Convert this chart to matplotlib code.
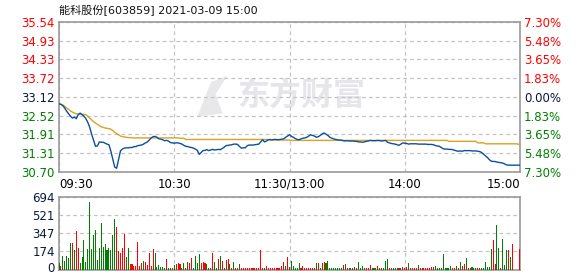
import matplotlib
matplotlib.use("Agg")
import matplotlib.pyplot as plt
import matplotlib.patches as mpatches

plt.rcParams["font.family"] = ["DejaVu Sans", "Noto Sans CJK SC"]

# ---- data (one value per minute, 241 minutes) ----
title = "能科股份[603859] 2021-03-09 15:00"
pre_close = 33.12

price = [
    32.90, 32.88, 32.84, 32.76, 32.66, 32.58, 32.50, 32.44, 32.47, 32.42,
    32.55, 32.60, 32.55, 32.50, 32.42, 32.30, 32.14, 31.92, 31.72, 31.53,
    31.54, 31.67, 31.66, 31.66, 31.63, 31.60, 31.58, 31.37, 31.12, 30.86,
    30.82, 31.10, 31.38, 31.44, 31.47, 31.48, 31.48, 31.49, 31.49, 31.52,
    31.52, 31.55, 31.56, 31.57, 31.60, 31.64, 31.67, 31.73, 31.80, 31.84,
    31.85, 31.82, 31.77, 31.76, 31.74, 31.71, 31.72, 31.70, 31.65, 31.64,
    31.63, 31.64, 31.64, 31.62, 31.60, 31.56, 31.53, 31.52, 31.50, 31.49,
    31.47, 31.44, 31.40, 31.27, 31.33, 31.39, 31.40, 31.42, 31.39, 31.41,
    31.43, 31.41, 31.42, 31.43, 31.42, 31.46, 31.50, 31.55, 31.56, 31.57,
    31.58, 31.60, 31.60, 31.59, 31.52, 31.47, 31.48, 31.48, 31.55, 31.57,
    31.57, 31.57, 31.58, 31.59, 31.60, 31.67, 31.74, 31.67, 31.70, 31.74,
    31.74, 31.74, 31.75, 31.75, 31.74, 31.75, 31.76, 31.77, 31.82, 31.86,
    31.90,
    31.85, 31.82, 31.78, 31.75, 31.74, 31.77, 31.79, 31.80, 31.82, 31.86,
    31.90, 31.88, 31.86, 31.82, 31.84, 31.88, 31.93, 31.96, 31.92, 31.88,
    31.82, 31.79, 31.77, 31.75, 31.74, 31.73, 31.73, 31.71, 31.70, 31.71,
    31.70, 31.70, 31.70, 31.69, 31.69, 31.67, 31.67, 31.66, 31.67, 31.69,
    31.70, 31.72, 31.71, 31.71, 31.71, 31.72, 31.71, 31.70, 31.71, 31.72,
    31.66, 31.64, 31.62, 31.61, 31.60, 31.58, 31.56, 31.60, 31.64, 31.63,
    31.62, 31.60, 31.61, 31.61, 31.61, 31.61, 31.60, 31.60, 31.60, 31.60,
    31.60, 31.59, 31.59, 31.59, 31.58, 31.55, 31.54, 31.53, 31.49, 31.45,
    31.44, 31.44, 31.43, 31.43, 31.42, 31.40, 31.38, 31.37, 31.38, 31.37,
    31.39, 31.39, 31.39, 31.39, 31.38, 31.38, 31.38, 31.37, 31.36, 31.33,
    31.28, 31.22, 31.17, 31.10, 31.05, 31.04, 31.04, 31.02, 31.01, 31.00,
    30.99, 30.96, 30.93, 30.92, 30.92, 30.92, 30.92, 30.92, 30.92, 30.92,
]

avg_price = [
    32.90, 32.89, 32.86, 32.82, 32.77, 32.72, 32.67, 32.63, 32.60, 32.58,
    32.57, 32.57, 32.56, 32.56, 32.55, 32.50, 32.44, 32.38, 32.32, 32.28,
    32.24, 32.19, 32.16, 32.14, 32.12, 32.11, 32.10, 32.08, 32.04, 31.98,
    31.94, 31.90, 31.86, 31.84, 31.83, 31.82, 31.81, 31.81, 31.80, 31.80,
    31.80, 31.80, 31.80, 31.80, 31.80, 31.80, 31.80, 31.80, 31.80, 31.80,
    31.80, 31.80, 31.80, 31.80, 31.80, 31.80, 31.80, 31.80, 31.80, 31.80,
    31.80, 31.80, 31.80, 31.79, 31.79, 31.79, 31.75, 31.75, 31.75, 31.75,
    31.75, 31.75, 31.75, 31.75, 31.75, 31.75, 31.75, 31.75, 31.75, 31.75,
    31.75, 31.75, 31.75, 31.75, 31.75, 31.75, 31.75, 31.75, 31.75, 31.75,
    31.75, 31.75, 31.75, 31.75, 31.75, 31.75, 31.75, 31.75, 31.75, 31.75,
    31.75, 31.75, 31.75, 31.75, 31.75, 31.75, 31.75, 31.75, 31.75, 31.75,
    31.75, 31.73, 31.73, 31.73, 31.73, 31.73, 31.73, 31.73, 31.73, 31.73,
    31.73,
    31.72, 31.72, 31.72, 31.72, 31.72, 31.72, 31.72, 31.72, 31.72, 31.72,
    31.72, 31.72, 31.72, 31.72, 31.72, 31.72, 31.72, 31.72, 31.72, 31.72,
    31.72, 31.72, 31.72, 31.72, 31.72, 31.72, 31.72, 31.72, 31.72, 31.72,
    31.72, 31.72, 31.72, 31.72, 31.72, 31.72, 31.72, 31.72, 31.72, 31.72,
    31.72, 31.72, 31.72, 31.72, 31.72, 31.72, 31.72, 31.72, 31.72, 31.72,
    31.72, 31.72, 31.72, 31.72, 31.72, 31.72, 31.72, 31.72, 31.72, 31.72,
    31.72, 31.72, 31.72, 31.72, 31.72, 31.72, 31.72, 31.72, 31.72, 31.72,
    31.72, 31.72, 31.72, 31.72, 31.72, 31.72, 31.72, 31.72, 31.72, 31.72,
    31.72, 31.72, 31.69, 31.69, 31.69, 31.69, 31.69, 31.69, 31.69, 31.69,
    31.69, 31.69, 31.69, 31.69, 31.69, 31.69, 31.69, 31.64, 31.64, 31.64,
    31.64, 31.61, 31.61, 31.61, 31.61, 31.61, 31.61, 31.61, 31.61, 31.61,
    31.61, 31.61, 31.61, 31.61, 31.61, 31.61, 31.61, 31.61, 31.60, 31.58,
]

volume = [
    66, 38, 124, 85, 124, 110, 255, 255, 190, 366,
    205, 60, 115, 283, 70, 195, 645, 195, 325, 376,
    88, 205, 440, 210, 245, 190, 200, 190, 325, 482,
    402, 176, 160, 207, 339, 119, 205, 50, 50, 35,
    35, 264, 35, 66, 82, 75, 41, 154, 35, 192,
    154, 25, 41, 28, 28, 13, 97, 19, 13, 19,
    41, 50, 66, 50, 13, 63, 19, 75, 66, 107,
    19, 129, 60, 151, 60, 75, 66, 50, 13, 13,
    154, 75, 13, 97, 129, 82, 19, 94, 97, 57,
    13, 69, 19, 13, 57, 13, 19, 13, 10, 10,
    10, 10, 10, 10, 10, 182, 10, 10, 31, 10,
    10, 10, 10, 10, 10, 13, 31, 75, 38, 119,
    20,
    78, 31, 13, 10, 60, 10, 31, 10, 10, 10,
    10, 10, 10, 66, 60, 10, 60, 69, 63, 78,
    19, 10, 10, 10, 10, 10, 10, 41, 50, 10,
    10, 10, 10, 22, 10, 69, 10, 31, 10, 10,
    10, 41, 10, 10, 10, 31, 10, 10, 10, 78,
    97, 10, 10, 10, 10, 10, 10, 10, 22, 10,
    22, 60, 10, 10, 10, 10, 41, 10, 10, 10,
    10, 10, 10, 22, 25, 31, 10, 10, 10, 144,
    10, 10, 10, 31, 10, 10, 31, 10, 69, 31,
    50, 107, 10, 10, 22, 10, 10, 10, 10, 10,
    10, 69, 22, 22, 192, 276, 50, 427, 201, 10,
    286, 41, 182, 182, 116, 239, 0, 0, 0, 192,
]

# 1 = up minute (red bar), 0 = down minute (green bar)
up = [
    0, 1, 0, 0, 0, 0, 0, 1, 0, 1,
    1, 0, 0, 0, 0, 0, 0, 0, 0, 0,
    0, 0, 0, 0, 0, 0, 0, 0, 0, 0,
    1, 1, 1, 1, 1, 0, 0, 1, 1, 1,
    1, 1, 1, 1, 0, 1, 1, 1, 1, 1,
    0, 0, 0, 0, 0, 0, 1, 0, 0, 1,
    0, 1, 1, 1, 0, 0, 1, 0, 1, 1,
    0, 0, 0, 0, 1, 1, 1, 0, 0, 1,
    1, 0, 0, 1, 0, 1, 0, 1, 1, 0,
    1, 0, 1, 1, 0, 1, 1, 1, 1, 1,
    1, 1, 1, 1, 1, 1, 1, 0, 1, 1,
    1, 1, 1, 1, 1, 1, 1, 1, 0, 1,
    1,
    0, 0, 0, 0, 0, 1, 1, 1, 1, 1,
    1, 1, 1, 0, 1, 0, 1, 1, 0, 0,
    0, 0, 0, 0, 0, 0, 0, 1, 0, 1,
    1, 0, 1, 0, 1, 0, 0, 0, 1, 1,
    1, 1, 0, 0, 0, 1, 0, 1, 0, 0,
    0, 1, 1, 0, 0, 0, 1, 0, 1, 1,
    1, 0, 1, 1, 1, 1, 0, 1, 1, 1,
    1, 1, 1, 1, 1, 0, 0, 0, 0, 0,
    0, 0, 0, 0, 1, 1, 0, 1, 0, 1,
    1, 0, 1, 1, 0, 0, 0, 1, 1, 0,
    0, 0, 0, 0, 0, 1, 1, 0, 0, 1,
    0, 0, 0, 1, 0, 1, 1, 1, 1, 1,
]

price_ticks = [30.70, 31.31, 31.91, 32.52, 33.12, 33.72, 34.33, 34.93, 35.54]
pct_labels = ["7.30%", "5.48%", "3.65%", "1.83%", "0.00%", "1.83%", "3.65%", "5.48%", "7.30%"]
vol_ticks = [0, 174, 347, 521, 694]
time_ticks = [0, 60, 120, 180, 240]
time_labels = ["09:30", "10:30", "11:30/13:00", "14:00", "15:00"]

RED = "#ff0000"
GREEN = "#008000"
DARK = "#0a1a3a"
GRID = "#c4c4c4"
FRAME = "#999999"

fig = plt.figure(figsize=(5.78, 2.76), dpi=100)
ax = fig.add_axes([59 / 578, 1 - 172 / 276, 461 / 578, 150 / 276])
axv = fig.add_axes([59 / 578, 1 - 269.5 / 276, 461 / 578, 73 / 276])

minutes = list(range(len(price)))

# watermark
ax.text(0.525, 0.50, "东方财富", transform=ax.transAxes, ha="center", va="center",
        fontsize=23, fontweight="bold", color="#e6e6ea", family="Noto Sans CJK SC", zorder=0)
ax.add_patch(mpatches.Polygon([(0.30, 0.37), (0.33, 0.60), (0.365, 0.64), (0.34, 0.52),
                               (0.355, 0.39)], closed=True, transform=ax.transAxes,
                              facecolor="#e8e8eb", edgecolor="none", zorder=0))

# price panel
ax.plot(minutes, avg_price, color="#dca21e", lw=1.0, zorder=3)
ax.plot(minutes, price, color="#0b4fa0", lw=1.0, zorder=4)
ax.set_xlim(0, 240)
ax.set_ylim(price_ticks[0], price_ticks[-1])
ax.set_yticks(price_ticks)
ax.set_yticklabels([f"{t:.2f}" for t in price_ticks])
ax.set_xticks(time_ticks)
ax.set_xticklabels(time_labels)
ax.tick_params(length=0, labelsize=8.5, pad=3)
ax.tick_params(axis="x", pad=4)
xl = ax.get_xticklabels()
xl[0].set_ha("left")
xl[-1].set_ha("right")
for lab, t in zip(ax.get_yticklabels(), price_ticks):
    lab.set_color(RED if t > pre_close else GREEN if t < pre_close else DARK)

axr = ax.twinx()
axr.set_ylim(price_ticks[0], price_ticks[-1])
axr.set_yticks(price_ticks)
axr.set_yticklabels(pct_labels)
axr.tick_params(length=0, labelsize=8.5, pad=3)
for lab, t in zip(axr.get_yticklabels(), price_ticks):
    lab.set_color(RED if t > pre_close else GREEN if t < pre_close else DARK)

# volume panel
bar_colors = [RED if u else GREEN for u in up]
axv.bar(minutes, volume, width=0.55, color=bar_colors, linewidth=0, zorder=3)
axv.set_xlim(0, 240)
axv.set_ylim(0, 694)
axv.set_yticks(vol_ticks)
axv.set_yticklabels([""] + [str(v) for v in vol_ticks[1:]])
axv.set_xticks(time_ticks)
axv.set_xticklabels([])
axv.tick_params(length=0, labelsize=8.5, pad=3, labelcolor=DARK)
# bottom "0" label placed by hand so it stays inside the canvas
fig.text(55 / 578, 1 - 268 / 276, str(vol_ticks[0]), ha="right", va="center",
         fontsize=8.5, color=DARK)

for a in (ax, axv):
    a.grid(True, color=GRID, lw=0.9, linestyle=(0, (3, 2.5)), zorder=1)
    a.set_axisbelow(True)
    for s in a.spines.values():
        s.set_color(FRAME)
        s.set_linewidth(1.2)
for s in axr.spines.values():
    s.set_visible(False)

fig.text(59 / 578, 1 - 10 / 276, title, ha="left", va="center", fontsize=8.0, color="#111111")

fig.savefig("out.png", dpi=100)
